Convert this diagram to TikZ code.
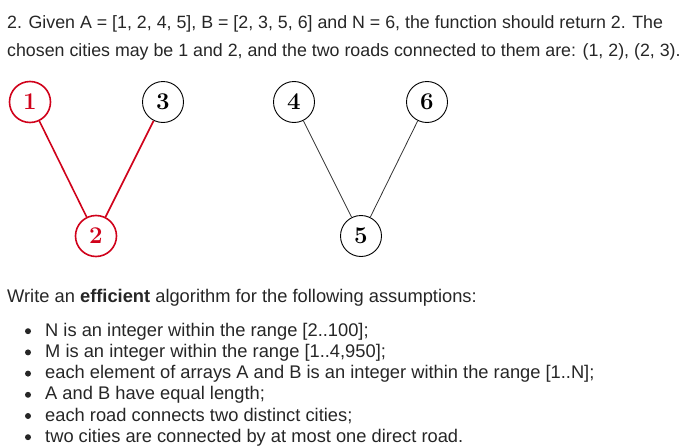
\documentclass[tikz,border=0pt]{standalone}
\usepackage{fontspec}
\setsansfont{Liberation Sans}
\begin{document}
\begin{tikzpicture}[x=1pt,y=-1pt,
  city/.style={circle,draw,line width=0.9pt,minimum size=41pt,inner sep=0pt,font=\fontsize{24}{24}\selectfont\bfseries},
  redcity/.style={city,draw=myred,text=myred,line width=1.6pt},
  txt/.style={anchor=base west,inner sep=0pt,font=\sffamily\fontsize{17.8}{18}\selectfont,text=black!85},
  btxt/.style={txt,font=\sffamily\fontsize{18.3}{18}\selectfont},
  rd/.style={draw=myred,line width=1.6pt},
  bk/.style={draw=black!80,line width=0.8pt}]
\definecolor{myred}{HTML}{D0021B}
\useasboundingbox (0,0) rectangle (691,447);
\node[txt] (l1) at (7,28) {2. Given A = [1, 2, 4, 5], B = [2, 3, 5, 6] and N = 6, the function should return 2. The};
\node[txt] (l2) at (7,56) {chosen cities may be 1 and 2, and the two roads connected to them are: (1, 2), (2, 3).};
\node[redcity] (c1) at (30,102) {1};
\node[city] (c3) at (163,102) {3};
\node[redcity] (c2) at (96,236) {2};
\node[city] (c4) at (294,102) {4};
\node[city] (c6) at (427,102) {6};
\node[city] (c5) at (361,236) {5};
\draw[rd] (c1) -- (c2);
\draw[rd] (c3) -- (c2);
\draw[bk] (c4) -- (c5);
\draw[bk] (c6) -- (c5);
\node[btxt] (w) at (7,302) {Write an \textbf{efficient} algorithm for the following assumptions:};
\foreach \t [count=\i] in {N is an integer within the range [2..100];,
  M is an integer within the range [1..4{,}950];,
  each element of arrays A and B is an integer within the range [1..N];,
  A and B have equal length;,
  each road connects two distinct cities;,
  two cities are connected by at most one direct road.}{
  \node[btxt] (b\i) at (45,{315+21.2*\i}) {\t};
  \fill[black!85] (28,{310+21.2*\i}) circle (3pt);
}
\end{tikzpicture}
\end{document}
